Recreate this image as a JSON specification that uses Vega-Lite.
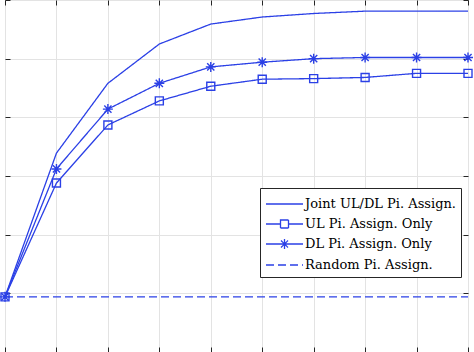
{
  "$schema": "https://vega.github.io/schema/vega-lite/v6.json",
  "width": 463,
  "height": 352,
  "autosize": {"type": "none"},
  "padding": {"left": 5, "top": 0, "right": 6, "bottom": 0},
  "background": "white",
  "config": {
    "view": {"stroke": "#262626", "strokeWidth": 1},
    "axis": {"gridColor": "#e3e3e3", "gridWidth": 1, "tickColor": "#262626", "tickSize": -5, "labels": false, "title": null, "domain": false}
  },
  "data": {"values": [
    {"x": 0, "y": 0.94, "series": "Joint UL/DL Pi. Assign."},
    {"x": 1, "y": 3.39, "series": "Joint UL/DL Pi. Assign."},
    {"x": 2, "y": 4.58, "series": "Joint UL/DL Pi. Assign."},
    {"x": 3, "y": 5.25, "series": "Joint UL/DL Pi. Assign."},
    {"x": 4, "y": 5.59, "series": "Joint UL/DL Pi. Assign."},
    {"x": 5, "y": 5.71, "series": "Joint UL/DL Pi. Assign."},
    {"x": 6, "y": 5.77, "series": "Joint UL/DL Pi. Assign."},
    {"x": 7, "y": 5.81, "series": "Joint UL/DL Pi. Assign."},
    {"x": 8, "y": 5.81, "series": "Joint UL/DL Pi. Assign."},
    {"x": 9, "y": 5.81, "series": "Joint UL/DL Pi. Assign."},
    {"x": 0, "y": 0.94, "series": "UL Pi. Assign. Only"},
    {"x": 1, "y": 2.88, "series": "UL Pi. Assign. Only"},
    {"x": 2, "y": 3.87, "series": "UL Pi. Assign. Only"},
    {"x": 3, "y": 4.28, "series": "UL Pi. Assign. Only"},
    {"x": 4, "y": 4.53, "series": "UL Pi. Assign. Only"},
    {"x": 5, "y": 4.65, "series": "UL Pi. Assign. Only"},
    {"x": 6, "y": 4.66, "series": "UL Pi. Assign. Only"},
    {"x": 7, "y": 4.68, "series": "UL Pi. Assign. Only"},
    {"x": 8, "y": 4.75, "series": "UL Pi. Assign. Only"},
    {"x": 9, "y": 4.75, "series": "UL Pi. Assign. Only"},
    {"x": 0, "y": 0.94, "series": "DL Pi. Assign. Only"},
    {"x": 1, "y": 3.12, "series": "DL Pi. Assign. Only"},
    {"x": 2, "y": 4.14, "series": "DL Pi. Assign. Only"},
    {"x": 3, "y": 4.58, "series": "DL Pi. Assign. Only"},
    {"x": 4, "y": 4.86, "series": "DL Pi. Assign. Only"},
    {"x": 5, "y": 4.94, "series": "DL Pi. Assign. Only"},
    {"x": 6, "y": 5.0, "series": "DL Pi. Assign. Only"},
    {"x": 7, "y": 5.02, "series": "DL Pi. Assign. Only"},
    {"x": 8, "y": 5.02, "series": "DL Pi. Assign. Only"},
    {"x": 9, "y": 5.02, "series": "DL Pi. Assign. Only"},
    {"x": 0, "y": 0.94, "series": "Random Pi. Assign."},
    {"x": 1, "y": 0.94, "series": "Random Pi. Assign."},
    {"x": 2, "y": 0.94, "series": "Random Pi. Assign."},
    {"x": 3, "y": 0.94, "series": "Random Pi. Assign."},
    {"x": 4, "y": 0.94, "series": "Random Pi. Assign."},
    {"x": 5, "y": 0.94, "series": "Random Pi. Assign."},
    {"x": 6, "y": 0.94, "series": "Random Pi. Assign."},
    {"x": 7, "y": 0.94, "series": "Random Pi. Assign."},
    {"x": 8, "y": 0.94, "series": "Random Pi. Assign."},
    {"x": 9, "y": 0.94, "series": "Random Pi. Assign."}
  ]},
  "layer": [
    {
      "mark": {"type": "line", "strokeWidth": 1.3, "color": "#2b40e6"},
      "encoding": {
        "x": {"field": "x", "type": "quantitative", "scale": {"domain": [0, 9], "nice": false}, "axis": {"orient": "bottom", "values": [0,1,2,3,4,5,6,7,8,9], "grid": true}},
        "y": {"field": "y", "type": "quantitative", "scale": {"domain": [0, 6], "nice": false, "zero": false}, "axis": {"orient": "left", "values": [0,1,2,3,4,5,6], "grid": true}},
        "strokeDash": {
          "field": "series", "type": "nominal",
          "scale": {"domain": ["Joint UL/DL Pi. Assign.", "UL Pi. Assign. Only", "DL Pi. Assign. Only", "Random Pi. Assign."], "range": [[1, 0], [1, 0], [1, 0], [8, 4]]},
          "legend": {
            "orient": "none", "legendX": 255, "legendY": 188, "title": null,
            "strokeColor": "#262626", "fillColor": "white", "padding": 5,
            "labelFont": "DejaVu Serif", "labelFontSize": 13, "labelColor": "black", "labelLimit": 300,
            "symbolSize": 400, "labelOffset": 18, "rowPadding": 2,
            "symbolStrokeWidth": 1.3, "symbolStrokeColor": "#2b40e6",
            "encode": {"symbols": {"update": {
              "shape": {"signal": "datum.value === 'UL Pi. Assign. Only' ? 'M-1,0H0.45M1.25,0H2.7M0.45,-0.4H1.25V0.4H0.45Z' : datum.value === 'DL Pi. Assign. Only' ? 'M-1,0H2.7M0.85,-0.5V0.5M0.35,0H1.35M0.5,-0.35L1.2,0.35M0.5,0.35L1.2,-0.35' : 'M-1,0H2.7'"},
              "fill": {"value": "transparent"},
              "stroke": {"value": "#2b40e6"}
            }}}
          }
        }
      }
    },
    {
      "transform": [{"filter": "datum.series === 'UL Pi. Assign. Only' || datum.series === 'DL Pi. Assign. Only'"}],
      "mark": {"type": "point", "filled": false, "strokeWidth": 1.4, "color": "#2b40e6", "size": 64, "opacity": 1},
      "encoding": {
        "x": {"field": "x", "type": "quantitative", "scale": {"domain": [0, 9], "nice": false}, "axis": {"orient": "top", "values": [0,1,2,3,4,5,6,7,8,9], "grid": false}},
        "y": {"field": "y", "type": "quantitative", "scale": {"domain": [0, 6], "nice": false, "zero": false}, "axis": {"orient": "right", "values": [0,1,2,3,4,5,6], "grid": false}},
        "shape": {"field": "series", "type": "nominal", "scale": {"domain": ["UL Pi. Assign. Only", "DL Pi. Assign. Only"], "range": ["square", "M0,-1.25V1.25M-1.25,0H1.25M-0.9,-0.9L0.9,0.9M-0.9,0.9L0.9,-0.9"]}, "legend": null}
      }
    }
  ],
  "resolve": {"axis": {"x": "independent", "y": "independent"}}
}
